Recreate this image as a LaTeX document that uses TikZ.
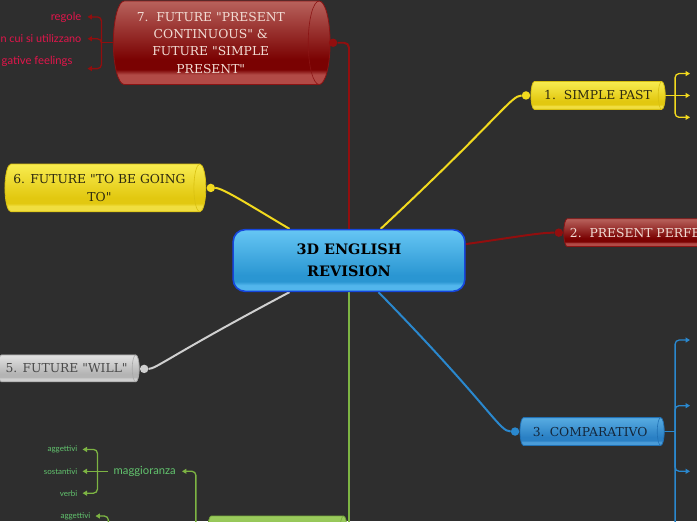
\documentclass[tikz,border=0pt]{standalone}
\usepackage{fontspec}
\setmainfont{DejaVu Serif}[Ligatures=TeXOff]
\newfontfamily\subfont{Lato}[Ligatures=TeXOff]
\usetikzlibrary{arrows.meta}
\pgfdeclarelayer{bg}
\pgfdeclarelayer{edges}
\pgfsetlayers{bg,edges,main}

\definecolor{bgc}{HTML}{2E2E2E}
\definecolor{redline}{HTML}{920E0E}
\definecolor{redtxt}{HTML}{E3154B}
\definecolor{redtop}{HTML}{B8625C}
\definecolor{reddark}{HTML}{7A0202}
\definecolor{redlow}{HTML}{B24A46}
\definecolor{redbord}{HTML}{8A1414}
\definecolor{redlbl}{HTML}{F2DCD4}
\definecolor{yeltop}{HTML}{F8EC50}
\definecolor{yeldark}{HTML}{E2C810}
\definecolor{yellow2}{HTML}{F2DA1E}
\definecolor{yellow3}{HTML}{F0DE40}
\definecolor{yelbord}{HTML}{D8C010}
\definecolor{yeltxt}{HTML}{2E2A10}
\definecolor{bluetop}{HTML}{58ACE2}
\definecolor{bluedark}{HTML}{2A80C4}
\definecolor{bluelow}{HTML}{4A9CD8}
\definecolor{blueline}{HTML}{2A88CE}
\definecolor{bluebord}{HTML}{2070B4}
\definecolor{bluetxt}{HTML}{14263A}
\definecolor{graytop}{HTML}{E2E2E2}
\definecolor{graydark}{HTML}{B4B4B4}
\definecolor{graylow}{HTML}{CFCFCF}
\definecolor{grayline}{HTML}{D0D0D0}
\definecolor{graybord}{HTML}{A8A8A8}
\definecolor{graytxt}{HTML}{4A4A4A}
\definecolor{hubtop}{HTML}{66C6F4}
\definecolor{hubdark}{HTML}{2A96D2}
\definecolor{hublow}{HTML}{52B6EC}
\definecolor{hubbord}{HTML}{1646DC}
\definecolor{greenline}{HTML}{7DB443}
\definecolor{greentop}{HTML}{9CCC5E}
\definecolor{greendark}{HTML}{82B544}
\definecolor{greenbord}{HTML}{76A83C}
\definecolor{greentxt}{HTML}{62C46E}

\pgfdeclareverticalshading{redsh}{100bp}{color(0bp)=(redlow); color(25bp)=(redlow); color(31bp)=(redlow); color(34bp)=(reddark); color(40bp)=(reddark); color(75bp)=(redtop); color(100bp)=(redtop)}
\pgfdeclareverticalshading{yelsh}{100bp}{color(0bp)=(yellow3); color(25bp)=(yellow3); color(31bp)=(yellow3); color(34bp)=(yeldark); color(40bp)=(yeldark); color(75bp)=(yeltop); color(100bp)=(yeltop)}
\pgfdeclareverticalshading{bluesh}{100bp}{color(0bp)=(bluelow); color(25bp)=(bluelow); color(31bp)=(bluelow); color(34bp)=(bluedark); color(40bp)=(bluedark); color(75bp)=(bluetop); color(100bp)=(bluetop)}
\pgfdeclareverticalshading{graysh}{100bp}{color(0bp)=(graylow); color(25bp)=(graylow); color(31bp)=(graylow); color(34bp)=(graydark); color(40bp)=(graydark); color(75bp)=(graytop); color(100bp)=(graytop)}
\pgfdeclareverticalshading{hubsh}{100bp}{color(0bp)=(hublow); color(25bp)=(hublow); color(30bp)=(hublow); color(33bp)=(hubdark); color(38bp)=(hubdark); color(75bp)=(hubtop); color(100bp)=(hubtop)}
\pgfdeclareverticalshading{greensh}{100bp}{color(0bp)=(greendark); color(25bp)=(greendark); color(75bp)=(greentop); color(100bp)=(greentop)}

% cylinder: x1, y1, x2, y2, rx, shading, border
\newcommand\cylshape[7]{%
  \pgfmathsetmacro\cylry{(#4-#2)/2}%
  \path[shading=#6,draw=#7,line width=0.8pt]
    (#1+#5,#2) -- (#3-#5,#2)
    arc[start angle=90,end angle=-90,x radius=#5pt,y radius=\cylry pt]
    -- (#1+#5,#4)
    arc[start angle=270,end angle=90,x radius=#5pt,y radius=\cylry pt] -- cycle;
  \draw[#7,line width=0.6pt] (#3-#5,#2)
    arc[start angle=90,end angle=270,x radius=#5pt,y radius=\cylry pt];
}

\begin{document}
\begin{tikzpicture}[x=1pt,y=-1pt,
  conn/.style={line width=2pt},
  brk/.style={line width=1.3pt,rounded corners=4pt},
  arrtip/.style={-{Triangle[length=4.5pt,width=5pt]}},
  dotnode/.style={circle,inner sep=0pt,minimum size=8.5pt},
  lbl/.style={font=\fontsize{12.4}{17.5}\selectfont,align=center,inner sep=0pt},
  subtxt/.style={font=\subfont\fontsize{11.3}{13}\selectfont,inner xsep=6pt,inner ysep=2pt},
  tinytxt/.style={font=\subfont\fontsize{8}{10}\selectfont,inner xsep=5pt,inner ysep=1pt},
]
\begin{pgfonlayer}{bg}
\fill[bgc] (-2,-2) rectangle (699,522);
\end{pgfonlayer}
\useasboundingbox (0,0) rectangle (697,520);

% central node
\node[draw=hubbord,line width=1.6pt,rounded corners=12pt,shading=hubsh,
      minimum width=233pt,minimum height=62pt,
      font=\bfseries\fontsize{14.5}{22}\selectfont,align=center,text=black] (c) at (349,260) {3D ENGLISH\\REVISION};

% 7
\cylshape{112}{-1}{330}{83}{11}{redsh}{redbord}
\node[lbl,text=redlbl,minimum width=196pt] (n7) at (210,41) {7.\ \ FUTURE "PRESENT\\CONTINUOUS" \&\\FUTURE "SIMPLE\\PRESENT"};
\node[dotnode,fill=redline] (d7) at (333,41) {};

% 1
\cylshape{532}{80}{667}{108}{3.5}{yelsh}{yelbord}
\node[lbl,text=yeltxt,minimum width=135pt] (n1) at (599.5,94) {1.\ \ SIMPLE PAST};
\node[dotnode,fill=yellow2] (d1) at (527,94) {};

% 2
\cylshape{565}{218}{745}{246}{3.5}{redsh}{redbord}
\node[lbl,text=redlbl,anchor=west,inner xsep=6pt] (n2) at (565,232) {2.\ \ PRESENT PERFECT};
\node[dotnode,fill=redline] (d2) at (560,232) {};

% 3
\cylshape{521}{418}{666}{446}{3.5}{bluesh}{bluebord}
\node[lbl,text=bluetxt,minimum width=145pt] (n3) at (591.5,432) {3. COMPARATIVO};
\node[dotnode,fill=blueline] (d3) at (516,432) {};

% 4
\cylshape{207}{517}{347}{545}{3.5}{greensh}{greenbord}
\node[inner sep=0pt,minimum width=140pt,minimum height=28pt] (n4) at (277,531) {};

% 5
\cylshape{-4}{355}{138}{382}{3.5}{graysh}{graybord}
\node[lbl,text=graytxt,minimum width=142pt] (n5) at (65,368.5) {5. FUTURE "WILL"};
\node[dotnode,fill=grayline] (d5) at (143,369) {};

% 6
\cylshape{3}{163}{205}{211}{6}{yelsh}{yelbord}
\node[lbl,text=yeltxt,minimum width=190pt] (n6) at (98,187) {6. FUTURE "TO BE GOING\\TO"};
\node[dotnode,fill=yellow2] (d6) at (210,187) {};

% children of 7
\node[subtxt,text=redtxt,anchor=east] (r1) at (86,15) {regole};
\node[subtxt,text=redtxt,anchor=east,font=\subfont\fontsize{10.9}{13}\selectfont] (r2) at (86,37) {n cui si utilizzano};
\node[subtxt,text=redtxt,anchor=east] (r3) at (77,60) {gative feelings};
\coordinate (a73) at (86,67);
\coordinate (j7) at (100,41);

% children of 4
\node[subtxt,text=greentxt,anchor=east] (mag) at (181,472) {maggioranza};
\node[tinytxt,text=greentxt,anchor=east] (g1) at (81,450) {aggettivi};
\node[tinytxt,text=greentxt,anchor=east] (g2) at (81,472) {sostantivi};
\node[tinytxt,text=greentxt,anchor=east] (g3) at (81,494) {verbi};
\node[tinytxt,text=greentxt,anchor=east] (g4) at (94,517) {aggettivi};
\coordinate (jm) at (96,472);
\coordinate (jg4) at (107,535);

% bracket joints and free ends on the right
\coordinate (j1) at (677,94);
\coordinate (a11) at (692,72);
\coordinate (a12) at (692,94);
\coordinate (a13) at (692,116);
\coordinate (j3) at (677,432);
\coordinate (a31) at (692,340);
\coordinate (a32) at (692,406);
\coordinate (a33) at (692,472);
\coordinate (a34) at (692,538);

\begin{pgfonlayer}{edges}
% main connectors
\draw[conn,redline,rounded corners=5pt] (c.north) |- (d7);
\draw[conn,yellow2] (c.45) .. controls (500,117) and (512,94) .. (d1);
\draw[conn,redline] (c.8) .. controls (520,236) and (540,232) .. (d2);
\draw[conn,blueline] (c.313) .. controls (492,408) and (500,432) .. (d3);
\draw[conn,greenline] (c.south) |- (n4.east);
\draw[conn,grayline] (c.208) .. controls (170,355) and (155,369) .. (d5);
\draw[conn,yellow2] (c.152) .. controls (250,205) and (222,187) .. (d6);

% 7 brackets
\draw[brk,redline] (n7.west) -- (j7);
\draw[brk,arrtip,redline] (j7) |- (r1.east);
\draw[brk,arrtip,redline] (j7) |- (r2.east);
\draw[brk,arrtip,redline] (j7) |- (a73);

% 1 brackets
\draw[brk,yellow2] (n1.east) -- (j1);
\draw[brk,arrtip,yellow2] (j1) |- (a11);
\draw[brk,arrtip,yellow2] (j1) -- (a12);
\draw[brk,arrtip,yellow2] (j1) |- (a13);

% 3 brackets
\draw[brk,blueline] (n3.east) -- (j3);
\draw[brk,arrtip,blueline] (j3) |- (a31);
\draw[brk,arrtip,blueline] (j3) |- (a32);
\draw[brk,arrtip,blueline] (j3) |- (a33);
\draw[brk,arrtip,blueline] (j3) |- (a34);

% 4 brackets
\draw[brk,arrtip,greenline] (n4.west) -- (195,531) |- (mag.east);
\draw[brk,arrtip,greenline] (mag.west) -- (g2.east);
\draw[brk,arrtip,greenline] (jm) |- (g1.east);
\draw[brk,arrtip,greenline] (jm) |- (g3.east);
\draw[brk,arrtip,greenline] (jg4) |- (g4.east);
\end{pgfonlayer}
\end{tikzpicture}
\end{document}
